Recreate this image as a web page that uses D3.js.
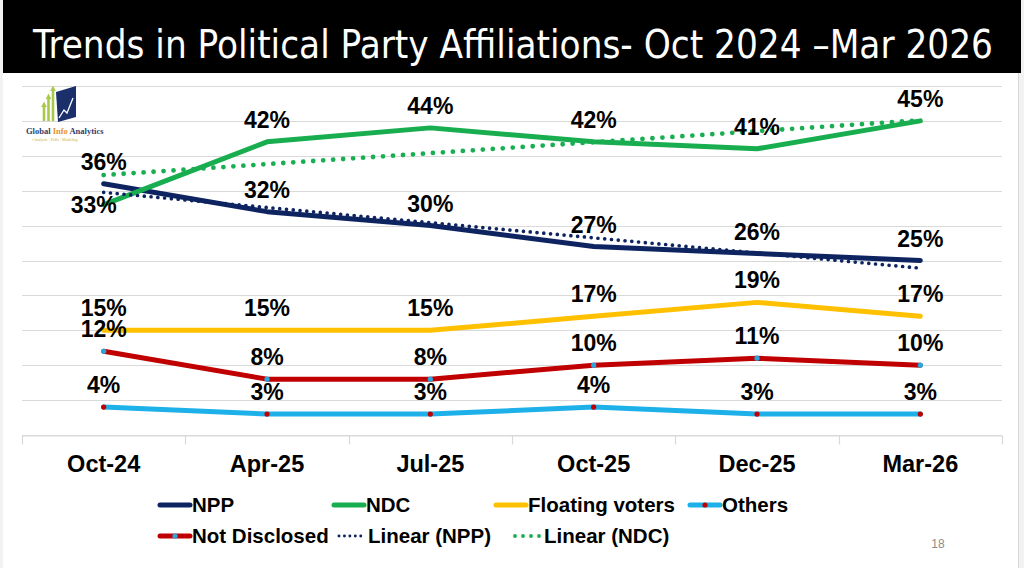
<!DOCTYPE html>
<html>
<head>
<meta charset="utf-8">
<script src="https://cdn.jsdelivr.net/npm/d3@7"></script>
<style>
	html, body { margin: 0; padding: 0; background: #f2f2f2; }
	svg { display: block; }
	.data-label { font-family: 'Liberation Sans', Arial, sans-serif; font-weight: bold; font-size: 23px; fill: #000; }
	.cat-label { font-family: 'Liberation Sans', Arial, sans-serif; font-weight: bold; font-size: 23.5px; fill: #000; }
	.legend-label { font-family: 'Liberation Sans', Arial, sans-serif; font-weight: bold; font-size: 20.5px; fill: #000; }
</style>
</head>
<body>
<div id="chart"></div>
<script>
'use strict';

// Chart data
var categories = ['Oct-24', 'Apr-25', 'Jul-25', 'Oct-25', 'Dec-25', 'Mar-26'];
var nppValues = [36, 32, 30, 27, 26, 25];
var ndcValues = [33, 42, 44, 42, 41, 45];
var floatingValues = [15, 15, 15, 17, 19, 17];
var othersValues = [4, 3, 3, 4, 3, 3];
var notDisclosedValues = [12, 8, 8, 10, 11, 10];
var yTicks = [0, 5, 10, 15, 20, 25, 30, 35, 40, 45, 50];

var series = [
	{ name: 'NPP', values: nppValues, color: '#0e2461', marker: null },
	{ name: 'NDC', values: ndcValues, color: '#18ad4f', marker: null },
	{ name: 'Floating voters', values: floatingValues, color: '#ffc000', marker: null },
	{ name: 'Others', values: othersValues, color: '#1eb0e8', marker: '#c00000' },
	{ name: 'Not Disclosed', values: notDisclosedValues, color: '#c00000', marker: '#2aa6dc' }
];

var trends = [
	{ name: 'Linear (NPP)', values: nppValues, color: '#0e2461', width: 3.7, gap: 6.8 },
	{ name: 'Linear (NDC)', values: ndcValues, color: '#1aae52', width: 4.8, gap: 10 }
];

var W = 1024, H = 568;
var plot = { left: 22, right: 1002, top: 86, bottom: 435 };

var svg = d3.select('#chart')
	.append('svg')
	.attr('width', W)
	.attr('height', H);

/*** Slide frame ---> ***/
svg.append('rect')
	.attr('x', 3).attr('y', 0)
	.attr('width', 1015).attr('height', H)
	.attr('fill', '#fff');
svg.append('line')
	.attr('x1', 1018.5).attr('x2', 1018.5)
	.attr('y1', 0).attr('y2', H)
	.attr('stroke', '#d6d6d6');

svg.append('rect')
	.attr('x', 3).attr('y', 0)
	.attr('width', 1018).attr('height', 73)
	.attr('fill', '#000');

svg.append('text')
	.attr('x', 33).attr('y', 58)
	.attr('textLength', 960)
	.attr('lengthAdjust', 'spacingAndGlyphs')
	.style('font-family', "'Liberation Sans Narrow', 'DejaVu Sans Condensed', 'Liberation Sans', sans-serif")
	.style('font-size', '39px')
	.attr('fill', '#fff')
	.text('Trends in Political Party Affiliations- Oct 2024 \u2013Mar 2026');

svg.append('text')
	.attr('x', 938).attr('y', 548)
	.attr('text-anchor', 'middle')
	.style('font-family', "'Liberation Sans', Arial, sans-serif")
	.style('font-size', '12px')
	.attr('fill', '#8c8c8c')
	.text('18');
/*** <--- Slide frame ***/

/*** Scales ---> ***/
var x = d3.scaleBand()
	.domain(categories)
	.range([plot.left, plot.right])
	.paddingInner(0)
	.paddingOuter(0);

function cx(c) {
	return x(c) + x.bandwidth() / 2;
}

var y = d3.scaleLinear()
	.domain([0, 50])
	.range([plot.bottom, plot.top]);
/*** <--- Scales ***/

// Gridlines
svg.append('g')
	.selectAll('line')
	.data(yTicks)
	.enter()
	.append('line')
	.attr('x1', plot.left).attr('x2', plot.right)
	.attr('y1', function(d) { return Math.round(y(d)) + 0.5; })
	.attr('y2', function(d) { return Math.round(y(d)) + 0.5; })
	.attr('stroke', '#d9d9d9')
	.attr('stroke-width', 1.2);

// Category axis with tick marks between categories
var xAxis = d3.axisBottom(x).tickSize(0).tickPadding(20);
var axisG = svg.append('g')
	.attr('transform', 'translate(0,' + (Math.round(y(0)) + 0.5) + ')')
	.call(xAxis);
axisG.select('.domain').attr('stroke', '#d9d9d9').attr('stroke-width', 1.2);
axisG.selectAll('text').attr('class', 'cat-label').attr('fill', '#000').attr('dy', '0.71em');

var boundaries = categories.map(function(c) { return x(c); }).concat([plot.right]);
axisG.selectAll('line.sep')
	.data(boundaries)
	.enter()
	.append('line')
	.attr('class', 'sep')
	.attr('x1', function(d) { return Math.round(d) + 0.5; })
	.attr('x2', function(d) { return Math.round(d) + 0.5; })
	.attr('y1', 0).attr('y2', 9)
	.attr('stroke', '#d9d9d9')
	.attr('stroke-width', 1.2);

/*** Series ---> ***/
var line = d3.line()
	.x(function(d, i) { return cx(categories[i]); })
	.y(function(d) { return y(d); });

var seriesG = svg.append('g');
series.forEach(function(s) {
	seriesG.append('path')
		.datum(s.values)
		.attr('d', line)
		.attr('fill', 'none')
		.attr('stroke', s.color)
		.attr('stroke-width', 5)
		.attr('stroke-linecap', 'round')
		.attr('stroke-linejoin', 'round');
	if (s.marker) {
		seriesG.selectAll(null)
			.data(s.values)
			.enter()
			.append('circle')
			.attr('cx', function(d, i) { return cx(categories[i]); })
			.attr('cy', function(d) { return y(d); })
			.attr('r', 2.6)
			.attr('fill', s.marker);
	}
});

// Linear trendlines (least squares over category index)
function linearFit(values) {
	var n = values.length;
	var xs = values.map(function(d, i) { return i + 1; });
	var mx = d3.mean(xs), my = d3.mean(values);
	var sxy = d3.sum(values, function(d, i) { return (xs[i] - mx) * (d - my); });
	var sxx = d3.sum(xs, function(v) { return (v - mx) * (v - mx); });
	var slope = sxy / sxx;
	return [my + slope * (1 - mx), my + slope * (n - mx)];
}

trends.forEach(function(t) {
	var ends = linearFit(t.values);
	seriesG.append('line')
		.attr('x1', cx(categories[0]))
		.attr('x2', cx(categories[categories.length - 1]))
		.attr('y1', y(ends[0]))
		.attr('y2', y(ends[1]))
		.attr('stroke', t.color)
		.attr('stroke-width', t.width)
		.attr('stroke-linecap', 'round')
		.attr('stroke-dasharray', '0 ' + t.gap);
});
/*** <--- Series ***/

/*** Data labels ---> ***/
// one label sits on its point instead of above it
var labelNudge = { 'NDC|Oct-24': [-10, 22] };

var labelG = svg.append('g');
series.forEach(function(s) {
	labelG.selectAll(null)
		.data(s.values)
		.enter()
		.append('text')
		.attr('class', 'data-label')
		.attr('text-anchor', 'middle')
		.attr('x', function(d, i) {
			var n = labelNudge[s.name + '|' + categories[i]];
			return cx(categories[i]) + (n ? n[0] : 0);
		})
		.attr('y', function(d, i) {
			var n = labelNudge[s.name + '|' + categories[i]];
			return y(d) - 14 + (n ? n[1] : 0);
		})
		.text(function(d) { return d + '%'; });
});
/*** <--- Data labels ***/

/*** Legend ---> ***/
var legendItems = [
	{ name: 'NPP', kind: 'line', s: series[0], x: 160, row: 0 },
	{ name: 'NDC', kind: 'line', s: series[1], x: 334, row: 0 },
	{ name: 'Floating voters', kind: 'line', s: series[2], x: 496, row: 0 },
	{ name: 'Others', kind: 'line', s: series[3], x: 690, row: 0 },
	{ name: 'Not Disclosed', kind: 'line', s: series[4], x: 160, row: 1 },
	{ name: 'Linear (NPP)', kind: 'trend', s: trends[0], x: 336, row: 1 },
	{ name: 'Linear (NDC)', kind: 'trend', s: trends[1], x: 512, row: 1 }
];
var legendRows = [505, 536];

var legendG = svg.append('g');
legendItems.forEach(function(item) {
	var ly = legendRows[item.row];
	var g = legendG.append('g');
	if (item.kind === 'line') {
		g.append('line')
			.attr('x1', item.x).attr('x2', item.x + 30)
			.attr('y1', ly).attr('y2', ly)
			.attr('stroke', item.s.color)
			.attr('stroke-width', 5)
			.attr('stroke-linecap', 'round');
		if (item.s.marker) {
			g.append('circle')
				.attr('cx', item.x + 15).attr('cy', ly).attr('r', 2.6)
				.attr('fill', item.s.marker);
		}
	}
	else {
		g.append('line')
			.attr('x1', item.x + 3).attr('x2', item.x + 30)
			.attr('y1', ly).attr('y2', ly)
			.attr('stroke', item.s.color)
			.attr('stroke-width', item.s.width * 0.8)
			.attr('stroke-linecap', 'round')
			.attr('stroke-dasharray', '0 ' + (item.s.gap * 0.8));
	}
	g.append('text')
		.attr('class', 'legend-label')
		.attr('x', item.x + 32)
		.attr('y', ly + 7)
		.text(item.name);
});
/*** <--- Legend ***/

/*** Logo ---> ***/
var logo = svg.append('g');
[[44, 121, 105], [48.5, 121, 97], [53, 121, 89]].forEach(function(b) {
	logo.append('line')
		.attr('x1', b[0]).attr('x2', b[0])
		.attr('y1', b[1]).attr('y2', b[2])
		.attr('stroke', '#a9c94a')
		.attr('stroke-width', 2.6);
	logo.append('path')
		.attr('d', 'M' + (b[0] - 2.8) + ',' + (b[2] + 2) + 'L' + b[0] + ',' + (b[2] - 3.5) + 'L' + (b[0] + 2.8) + ',' + (b[2] + 2) + 'Z')
		.attr('fill', '#a9c94a');
});
logo.append('path')
	.attr('d', 'M56,92 L76,86 L76,117 L58,122 Z')
	.attr('fill', '#1b2f6b');
logo.append('path')
	.attr('d', 'M59,118 L64,110 L67,113 L73,98')
	.attr('fill', 'none')
	.attr('stroke', '#fff')
	.attr('stroke-width', 1.3);
var logoText = logo.append('text')
	.attr('x', 26).attr('y', 134)
	.style('font-family', "'Liberation Serif', 'DejaVu Serif', serif")
	.style('font-weight', 'bold')
	.style('font-size', '8.5px')
	.attr('fill', '#2c3f73');
logoText.append('tspan').text('Global ');
logoText.append('tspan').attr('fill', '#e8912d').text('Info');
logoText.append('tspan').text(' Analytics');
logo.append('text')
	.attr('x', 32).attr('y', 141)
	.style('font-family', "'Liberation Serif', serif")
	.style('font-size', '4px')
	.attr('fill', '#c9b13c')
	.text('\u2022Analysis \u00b7 Polls \u00b7 Modeling');
/*** <--- Logo ***/
</script>
</body>
</html>
